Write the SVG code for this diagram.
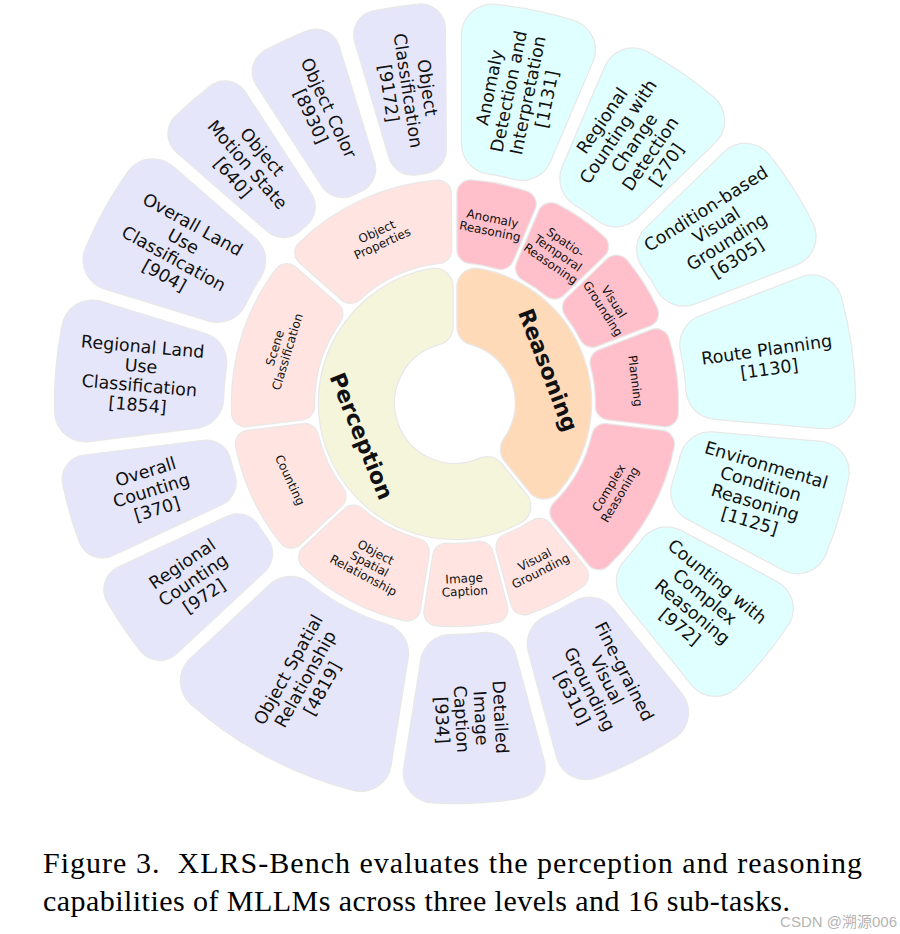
<svg xmlns="http://www.w3.org/2000/svg" xmlns:xlink="http://www.w3.org/1999/xlink" width="900" height="934" viewBox="0 0 900 934">
<style>
use{stroke-linejoin:round}
.bd{fill:#e8e8e8;stroke:#e8e8e8}
.s60{stroke-width:60px}.s62{stroke-width:62.5px}
.s48{stroke-width:48px}.s50{stroke-width:50.5px}
.s26{stroke-width:26px}.s28{stroke-width:28.5px}
.s36{stroke-width:36px}.s38{stroke-width:38.5px}
.lav{fill:#e6e6fa;stroke:#e6e6fa}
.cyan{fill:#e0ffff;stroke:#e0ffff}
.rose{fill:#ffe4e1;stroke:#ffe4e1}
.pink{fill:#ffc0cb;stroke:#ffc0cb}
.beige{fill:#f5f5dc;stroke:#f5f5dc}
.peach{fill:#ffdab9;stroke:#ffdab9}
text{font-family:"DejaVu Sans","Liberation Sans",sans-serif;fill:#111;text-anchor:middle}
.to{font-size:17.5px}
.tm{font-size:12px}
.ti{font-size:22px;font-weight:bold}
.cap{font-family:"Liberation Serif","Times New Roman",serif;font-size:30px;text-anchor:start;fill:#000}
.wm{font-family:"Liberation Sans","Noto Sans CJK SC",sans-serif;font-size:15px;fill:#b4b4b4;text-anchor:end}
</style>
<defs>
<path id="o115" d="M-37.14,-368.14A370,370 0 0 1 37.14,-368.14L15.45,-261.54A262,262 0 0 0 -15.45,-261.54Z"/>
<path id="o12" d="M-40.35,-367.79A370,370 0 0 1 40.35,-367.79L17.74,-261.39A262,262 0 0 0 -17.74,-261.39Z"/>
<path id="o13" d="M-46.77,-367.03A370,370 0 0 1 46.77,-367.03L22.30,-261.04A262,262 0 0 0 -22.30,-261.04Z"/>
<path id="o19" d="M-84.88,-360.14A370,370 0 0 1 84.88,-360.14L49.46,-257.29A262,262 0 0 0 -49.46,-257.29Z"/>
<path id="o8" d="M-21.45,-375.38A376,376 0 0 1 21.45,-375.38L4.67,-255.96A256,256 0 0 0 -4.67,-255.96Z"/>
<path id="o9" d="M-28.00,-374.96A376,376 0 0 1 28.00,-374.96L9.13,-255.84A256,256 0 0 0 -9.13,-255.84Z"/>
<path id="m115" d="M-26.56,-208.32A210,210 0 0 1 26.56,-208.32L15.36,-153.23A154,154 0 0 0 -15.36,-153.23Z"/>
<path id="m12" d="M-28.38,-208.07A210,210 0 0 1 28.38,-208.07L16.70,-153.09A154,154 0 0 0 -16.70,-153.09Z"/>
<path id="m14" d="M-35.63,-206.96A210,210 0 0 1 35.63,-206.96L22.03,-152.42A154,154 0 0 0 -22.03,-152.42Z"/>
<path id="m18" d="M-49.98,-203.97A210,210 0 0 1 49.98,-203.97L32.61,-150.51A154,154 0 0 0 -32.61,-150.51Z"/>
<path id="m19" d="M-53.52,-203.07A210,210 0 0 1 53.52,-203.07L35.22,-149.92A154,154 0 0 0 -35.22,-149.92Z"/>
<path id="m22" d="M-64.08,-199.99A210,210 0 0 1 64.08,-199.99L43.03,-147.87A154,154 0 0 0 -43.03,-147.87Z"/>
<path id="m24" d="M-71.02,-197.62A210,210 0 0 1 71.02,-197.62L48.16,-146.27A154,154 0 0 0 -48.16,-146.27Z"/>
<path id="iR" d="M-102.70,-58.11A118,118 0 0 1 102.70,-58.11L65.07,-44.79A79,79 0 0 0 -65.07,-44.79Z"/>
<path id="iP" d="M-116.38,19.47A118,118 0 1 1 116.38,19.47L78.75,6.15A79,79 0 1 0 -78.75,6.15Z"/>
</defs>
<rect width="900" height="934" fill="#ffffff"/>

<g id="connectors"></g>

<!-- inner ring -->
<g id="cat-reasoning">
<use xlink:href="#iR" href="#iR" class="bd s38" transform="translate(455 403) rotate(70.5)"/>
<use xlink:href="#iR" href="#iR" class="peach s36" transform="translate(455 403) rotate(70.5)"/>
<text class="ti" transform="translate(548.3 370) rotate(69)"><tspan x="0" y="7.9">Reasoning</tspan></text>
</g>
<g id="cat-perception">
<use xlink:href="#iP" href="#iP" class="bd s38" transform="translate(455 403) rotate(250.5)"/>
<use xlink:href="#iP" href="#iP" class="beige s36" transform="translate(455 403) rotate(250.5)"/>
<text class="ti" transform="translate(361.7 436) rotate(68)"><tspan x="0" y="7.9">Perception</tspan></text>
</g>

<!-- middle ring -->
<g id="mid-anomaly-reasoning">
<use xlink:href="#m115" href="#m115" class="bd s28" transform="translate(455 403) rotate(11.5)"/>
<use xlink:href="#m115" href="#m115" class="pink s26" transform="translate(455 403) rotate(11.5)"/>
<text class="tm" transform="translate(491.3 224.7) rotate(11.5)"><tspan x="0" y="-2.2">Anomaly</tspan><tspan x="0" y="10.8">Reasoning</tspan></text>
</g>
<g id="mid-spatio-temporal">
<use xlink:href="#m115" href="#m115" class="bd s28" transform="translate(455 403) rotate(34.5)"/>
<use xlink:href="#m115" href="#m115" class="pink s26" transform="translate(455 403) rotate(34.5)"/>
<text class="tm" transform="translate(558.1 253) rotate(34.5)"><tspan x="0" y="-8.7">Spatio-</tspan><tspan x="0" y="4.3">Temporal</tspan><tspan x="0" y="17.3">Reasoning</tspan></text>
</g>
<g id="mid-visual-grounding-r">
<use xlink:href="#m115" href="#m115" class="bd s28" transform="translate(455 403) rotate(57.5)"/>
<use xlink:href="#m115" href="#m115" class="pink s26" transform="translate(455 403) rotate(57.5)"/>
<text class="tm" transform="translate(608.5 305.2) rotate(57.5)"><tspan x="0" y="-2.2">Visual</tspan><tspan x="0" y="10.8">Grounding</tspan></text>
</g>
<g id="mid-planning">
<use xlink:href="#m14" href="#m14" class="bd s28" transform="translate(455 403) rotate(83)"/>
<use xlink:href="#m14" href="#m14" class="pink s26" transform="translate(455 403) rotate(83)"/>
<text class="tm" transform="translate(635.6 380.8) rotate(83)"><tspan x="0" y="4.3">Planning</tspan></text>
</g>
<g id="mid-complex-reasoning">
<use xlink:href="#m22" href="#m22" class="bd s28" transform="translate(455 403) rotate(119)"/>
<use xlink:href="#m22" href="#m22" class="pink s26" transform="translate(455 403) rotate(119)"/>
<text class="tm" transform="translate(614.2 491.2) rotate(-59)"><tspan x="0" y="-2.2">Complex</tspan><tspan x="0" y="10.8">Reasoning</tspan></text>
</g>
<g id="mid-visual-grounding-p">
<use xlink:href="#m12" href="#m12" class="bd s28" transform="translate(455 403) rotate(153)"/>
<use xlink:href="#m12" href="#m12" class="rose s26" transform="translate(455 403) rotate(153)"/>
<text class="tm" transform="translate(537.6 565.2) rotate(-27)"><tspan x="0" y="-2.2">Visual</tspan><tspan x="0" y="10.8">Grounding</tspan></text>
</g>
<g id="mid-image-caption">
<use xlink:href="#m12" href="#m12" class="bd s28" transform="translate(455 403) rotate(177)"/>
<use xlink:href="#m12" href="#m12" class="rose s26" transform="translate(455 403) rotate(177)"/>
<text class="tm" transform="translate(464.5 584.8) rotate(-3)"><tspan x="0" y="-2.2">Image</tspan><tspan x="0" y="10.8">Caption</tspan></text>
</g>
<g id="mid-object-spatial">
<use xlink:href="#m19" href="#m19" class="bd s28" transform="translate(455 403) rotate(208)"/>
<use xlink:href="#m19" href="#m19" class="rose s26" transform="translate(455 403) rotate(208)"/>
<text class="tm" transform="translate(369.6 563.7) rotate(28)"><tspan x="0" y="-8.7">Object</tspan><tspan x="0" y="4.3">Spatial</tspan><tspan x="0" y="17.3">Relationship</tspan></text>
</g>
<g id="mid-counting">
<use xlink:href="#m18" href="#m18" class="bd s28" transform="translate(455 403) rotate(245)"/>
<use xlink:href="#m18" href="#m18" class="rose s26" transform="translate(455 403) rotate(245)"/>
<text class="tm" transform="translate(290.1 479.9) rotate(65)"><tspan x="0" y="4.3">Counting</tspan></text>
</g>
<g id="mid-scene-classification">
<use xlink:href="#m24" href="#m24" class="bd s28" transform="translate(455 403) rotate(287)"/>
<use xlink:href="#m24" href="#m24" class="rose s26" transform="translate(455 403) rotate(287)"/>
<text class="tm" transform="translate(281 349.8) rotate(-73)"><tspan x="0" y="-2.2">Scene</tspan><tspan x="0" y="10.8">Classification</tspan></text>
</g>
<g id="mid-object-properties">
<use xlink:href="#m24" href="#m24" class="bd s28" transform="translate(455 403) rotate(335.5)"/>
<use xlink:href="#m24" href="#m24" class="rose s26" transform="translate(455 403) rotate(335.5)"/>
<text class="tm" transform="translate(379.5 237.4) rotate(-24.5)"><tspan x="0" y="-2.2">Object</tspan><tspan x="0" y="10.8">Properties</tspan></text>
</g>

<!-- outer ring -->
<g id="leaf-anomaly-detection">
<use xlink:href="#o115" href="#o115" class="bd s62" transform="translate(455 403) rotate(11.5)"/>
<use xlink:href="#o115" href="#o115" class="cyan s60" transform="translate(455 403) rotate(11.5)"/>
<text class="to" transform="translate(518 93.3) rotate(-78.5)"><tspan x="0" y="-22.95">Anomaly</tspan><tspan x="0" y="-3.45">Detection and</tspan><tspan x="0" y="16.05">Interpretation</tspan><tspan x="0" y="35.55">[1131]</tspan></text>
</g>
<g id="leaf-regional-counting-change">
<use xlink:href="#o115" href="#o115" class="bd s62" transform="translate(455 403) rotate(34.5)"/>
<use xlink:href="#o115" href="#o115" class="cyan s60" transform="translate(455 403) rotate(34.5)"/>
<text class="to" transform="translate(634 142.6) rotate(-55.5)"><tspan x="0" y="-32.7">Regional</tspan><tspan x="0" y="-13.2">Counting with</tspan><tspan x="0" y="6.3">Change</tspan><tspan x="0" y="25.8">Detection</tspan><tspan x="0" y="45.3">[270]</tspan></text>
</g>
<g id="leaf-condition-visual-grounding">
<use xlink:href="#o115" href="#o115" class="bd s62" transform="translate(455 403) rotate(57.5)"/>
<use xlink:href="#o115" href="#o115" class="cyan s60" transform="translate(455 403) rotate(57.5)"/>
<text class="to" transform="translate(721.5 233.2) rotate(-32.5)"><tspan x="0" y="-22.95">Condition-based</tspan><tspan x="0" y="-3.45">Visual</tspan><tspan x="0" y="16.05">Grounding</tspan><tspan x="0" y="35.55">[6305]</tspan></text>
</g>
<g id="leaf-route-planning">
<use xlink:href="#o13" href="#o13" class="bd s62" transform="translate(455 403) rotate(82)"/>
<use xlink:href="#o13" href="#o13" class="cyan s60" transform="translate(455 403) rotate(82)"/>
<text class="to" transform="translate(767.9 359) rotate(-8)"><tspan x="0" y="-3.45">Route Planning</tspan><tspan x="0" y="16.05">[1130]</tspan></text>
</g>
<g id="leaf-environmental-condition">
<use xlink:href="#o115" href="#o115" class="bd s62" transform="translate(455 403) rotate(106.5)"/>
<use xlink:href="#o115" href="#o115" class="cyan s60" transform="translate(455 403) rotate(106.5)"/>
<text class="to" transform="translate(758 492.8) rotate(16.5)"><tspan x="0" y="-22.95">Environmental</tspan><tspan x="0" y="-3.45">Condition</tspan><tspan x="0" y="16.05">Reasoning</tspan><tspan x="0" y="35.55">[1125]</tspan></text>
</g>
<g id="leaf-counting-complex">
<use xlink:href="#o115" href="#o115" class="bd s62" transform="translate(455 403) rotate(129.5)"/>
<use xlink:href="#o115" href="#o115" class="cyan s60" transform="translate(455 403) rotate(129.5)"/>
<text class="to" transform="translate(698.8 604) rotate(39.5)"><tspan x="0" y="-22.95">Counting with</tspan><tspan x="0" y="-3.45">Complex</tspan><tspan x="0" y="16.05">Reasoning</tspan><tspan x="0" y="35.55">[972]</tspan></text>
</g>
<g id="leaf-fine-grained-vg">
<use xlink:href="#o12" href="#o12" class="bd s62" transform="translate(455 403) rotate(153)"/>
<use xlink:href="#o12" href="#o12" class="lav s60" transform="translate(455 403) rotate(153)"/>
<text class="to" transform="translate(598.5 684.6) rotate(63)"><tspan x="0" y="-22.95">Fine-grained</tspan><tspan x="0" y="-3.45">Visual</tspan><tspan x="0" y="16.05">Grounding</tspan><tspan x="0" y="35.55">[6310]</tspan></text>
</g>
<g id="leaf-detailed-caption">
<use xlink:href="#o12" href="#o12" class="bd s62" transform="translate(455 403) rotate(177)"/>
<use xlink:href="#o12" href="#o12" class="lav s60" transform="translate(455 403) rotate(177)"/>
<text class="to" transform="translate(471.5 718.6) rotate(87)"><tspan x="0" y="-22.95">Detailed</tspan><tspan x="0" y="-3.45">Image</tspan><tspan x="0" y="16.05">Caption</tspan><tspan x="0" y="35.55">[934]</tspan></text>
</g>
<g id="leaf-object-spatial">
<use xlink:href="#o19" href="#o19" class="bd s62" transform="translate(455 403) rotate(208)"/>
<use xlink:href="#o19" href="#o19" class="lav s60" transform="translate(455 403) rotate(208)"/>
<text class="to" transform="translate(305 679) rotate(-61)"><tspan x="0" y="-13.2">Object Spatial</tspan><tspan x="0" y="6.3">Relationship</tspan><tspan x="0" y="25.8">[4819]</tspan></text>
</g>
<g id="leaf-regional-counting">
<use xlink:href="#o9" href="#o9" class="bd s50" transform="translate(455 403) rotate(236)"/>
<use xlink:href="#o9" href="#o9" class="lav s48" transform="translate(455 403) rotate(236)"/>
<text class="to" transform="translate(193 579.7) rotate(-34)"><tspan x="0" y="-13.2">Regional</tspan><tspan x="0" y="6.3">Counting</tspan><tspan x="0" y="25.8">[972]</tspan></text>
</g>
<g id="leaf-overall-counting">
<use xlink:href="#o9" href="#o9" class="bd s50" transform="translate(455 403) rotate(254)"/>
<use xlink:href="#o9" href="#o9" class="lav s48" transform="translate(455 403) rotate(254)"/>
<text class="to" transform="translate(151.2 490.1) rotate(-17)"><tspan x="0" y="-13.2">Overall</tspan><tspan x="0" y="6.3">Counting</tspan><tspan x="0" y="25.8">[370]</tspan></text>
</g>
<g id="leaf-regional-land-use">
<use xlink:href="#o12" href="#o12" class="bd s62" transform="translate(455 403) rotate(275)"/>
<use xlink:href="#o12" href="#o12" class="lav s60" transform="translate(455 403) rotate(275)"/>
<text class="to" transform="translate(140.2 375.5) rotate(5)"><tspan x="0" y="-22.95">Regional Land</tspan><tspan x="0" y="-3.45">Use</tspan><tspan x="0" y="16.05">Classification</tspan><tspan x="0" y="35.55">[1854]</tspan></text>
</g>
<g id="leaf-overall-land-use">
<use xlink:href="#o12" href="#o12" class="bd s62" transform="translate(455 403) rotate(299)"/>
<use xlink:href="#o12" href="#o12" class="lav s60" transform="translate(455 403) rotate(299)"/>
<text class="to" transform="translate(178.6 249.8) rotate(29)"><tspan x="0" y="-22.95">Overall Land</tspan><tspan x="0" y="-3.45">Use</tspan><tspan x="0" y="16.05">Classification</tspan><tspan x="0" y="35.55">[904]</tspan></text>
</g>
<g id="leaf-motion-state">
<use xlink:href="#o8" href="#o8" class="bd s50" transform="translate(455 403) rotate(319)"/>
<use xlink:href="#o8" href="#o8" class="lav s48" transform="translate(455 403) rotate(319)"/>
<text class="to" transform="translate(247.7 164.5) rotate(49)"><tspan x="0" y="-13.2">Object</tspan><tspan x="0" y="6.3">Motion State</tspan><tspan x="0" y="25.8">[640]</tspan></text>
</g>
<g id="leaf-object-color">
<use xlink:href="#o8" href="#o8" class="bd s50" transform="translate(455 403) rotate(335)"/>
<use xlink:href="#o8" href="#o8" class="lav s48" transform="translate(455 403) rotate(335)"/>
<text class="to" transform="translate(320 112) rotate(65)"><tspan x="0" y="-3.45">Object Color</tspan><tspan x="0" y="16.05">[8930]</tspan></text>
</g>
<g id="leaf-object-classification">
<use xlink:href="#o8" href="#o8" class="bd s50" transform="translate(455 403) rotate(351.5)"/>
<use xlink:href="#o8" href="#o8" class="lav s48" transform="translate(455 403) rotate(351.5)"/>
<text class="to" transform="translate(408.3 90.5) rotate(81.5)"><tspan x="0" y="-13.2">Object</tspan><tspan x="0" y="6.3">Classification</tspan><tspan x="0" y="25.8">[9172]</tspan></text>
</g>

<g id="caption">
<text class="cap" x="43" y="873" textLength="819" lengthAdjust="spacing" xml:space="preserve">Figure 3.  XLRS-Bench evaluates the perception and reasoning</text>
<text class="cap" x="43" y="911" textLength="747" lengthAdjust="spacing">capabilities of MLLMs across three levels and 16 sub-tasks.</text>
<text class="wm" x="897" y="927">CSDN @溯源006</text>
</g>
</svg>
